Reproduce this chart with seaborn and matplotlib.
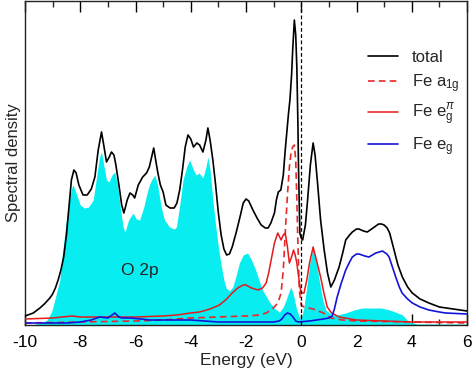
import numpy as np
import pandas as pd
import matplotlib
matplotlib.use("Agg")
import matplotlib.pyplot as plt
import seaborn as sns
from matplotlib.ticker import MultipleLocator

# ---- data (spectral density, arbitrary units) ----
total_x = [-10.0, -9.7, -9.46, -9.3, -9.1, -9.0, -8.9, -8.8, -8.7, -8.6, -8.5, -8.4, -8.32, -8.23,
           -8.15, -8.05, -7.9, -7.75, -7.6, -7.47, -7.35, -7.23, -7.15, -7.05, -6.95, -6.87, -6.78,
           -6.71, -6.6, -6.5, -6.42, -6.3, -6.2, -6.1, -6.03, -5.9, -5.74, -5.6, -5.5, -5.4, -5.34,
           -5.27, -5.19, -5.1, -5.0, -4.9, -4.75, -4.6, -4.5, -4.4, -4.3, -4.2, -4.1, -4.0, -3.9,
           -3.78, -3.68, -3.56, -3.45, -3.38, -3.3, -3.2, -3.1, -3.0, -2.9, -2.8, -2.7, -2.6, -2.5,
           -2.36, -2.2, -2.1, -2.0, -1.9, -1.75, -1.6, -1.45, -1.3, -1.2, -1.1, -0.97, -0.9, -0.83,
           -0.74, -0.65, -0.58, -0.5, -0.46, -0.41, -0.35, -0.31, -0.25, -0.2, -0.16, -0.12, -0.1,
           -0.05, 0.0, 0.05, 0.15, 0.23, 0.33, 0.43, 0.5, 0.59, 0.7, 0.83, 0.95, 1.07, 1.2, 1.37,
           1.5, 1.61, 1.75, 1.85, 2.0, 2.09, 2.25, 2.39, 2.6, 2.8, 2.9, 3.0, 3.11, 3.2, 3.36, 3.5,
           3.66, 3.85, 4.02, 4.3, 4.62, 5.0, 5.5, 6.0]
total_y = [9, 12, 17, 21, 27, 31, 37, 45, 55, 68, 90, 120, 145, 155,
           152, 140, 130, 130, 136, 148, 175, 193, 180, 163, 168, 173, 170,
           160, 140, 120, 112, 125, 132, 130, 127, 140, 148, 152, 158, 170, 177,
           165, 152, 140, 133, 120, 117, 117, 122, 135, 155, 178, 190, 186, 178,
           182, 180, 173, 185, 197, 185, 165, 140, 112, 90, 76, 70, 71, 78,
           92, 110, 122, 126, 124, 115, 107, 100, 97, 97, 102, 112, 125, 133,
           135, 150, 175, 200, 212, 225, 250, 275, 305, 290, 258, 200, 158,
           92, 87, 85, 100, 125, 160, 182, 170, 142, 105, 75, 52, 38, 45, 58,
           72, 85, 90, 93, 96, 96, 94, 93, 97, 101, 101, 100, 97, 92, 75, 60,
           48, 38, 32, 26, 22, 18, 16, 14]

o2p_x = [-10.0, -9.8, -9.6, -9.4, -9.2, -9.04, -8.95, -8.86, -8.74, -8.65, -8.5, -8.4, -8.3, -8.26,
         -8.15, -8.0, -7.85, -7.7, -7.53, -7.4, -7.3, -7.23, -7.15, -7.05, -6.96, -6.85, -6.75,
         -6.65, -6.55, -6.45, -6.38, -6.25, -6.09, -5.97, -5.85, -5.7, -5.6, -5.5, -5.42, -5.3,
         -5.2, -5.07, -4.95, -4.77, -4.6, -4.52, -4.4, -4.28, -4.15, -4.04, -3.9, -3.8, -3.7,
         -3.56, -3.45, -3.38, -3.3, -3.2, -3.1, -3.0, -2.9, -2.8, -2.72, -2.6, -2.48, -2.35,
         -2.24, -2.1, -1.94, -1.8, -1.65, -1.57, -1.4, -1.15, -0.95, -0.79, -0.65, -0.55, -0.45,
         -0.37, -0.28, -0.19, -0.1, -0.02, 0.08, 0.17, 0.3, 0.43, 0.55, 0.65, 0.78, 0.89, 1.13,
         1.3, 1.61, 1.9, 2.2, 2.9, 3.2, 3.5, 3.66, 3.8, 3.9, 4.2, 6.0]
o2p_y = [0, 0, 1, 2, 5, 13, 22, 32, 45, 70, 106, 125, 138, 140,
         132, 120, 117, 118, 125, 150, 168, 173, 160, 145, 143, 150, 153,
         140, 118, 98, 93, 105, 112, 106, 105, 118, 130, 140, 145, 150,
         140, 118, 105, 98, 96, 98, 120, 145, 158, 165, 155, 150, 152,
         147, 158, 168, 155, 125, 100, 78, 60, 45, 37, 34, 38, 50,
         62, 70, 72, 65, 55, 48, 35, 23, 16, 13, 18, 25, 33,
         38, 30, 18, 10, 5, 15, 32, 60, 78, 62, 45, 25, 15, 10,
         10, 12, 15, 17, 17, 15, 12, 10, 6, 3, 1, 1]

egpi_x = [-10.0, -9.0, -8.3, -8.0, -7.0, -6.0, -5.0, -4.5, -4.0, -3.68, -3.3, -2.96, -2.7, -2.5, -2.3,
          -2.1, -2.0, -1.8, -1.56, -1.4, -1.27, -1.18, -1.09, -0.97, -0.85, -0.78, -0.73, -0.65,
          -0.58, -0.5, -0.43, -0.35, -0.28, -0.22, -0.16, -0.08, -0.01, 0.1, 0.2, 0.3, 0.43,
          0.55, 0.7, 0.82, 0.94, 1.1, 1.37, 2.0, 3.0, 4.0, 6.0]
egpi_y = [6, 7, 9, 8, 8, 8, 9, 10, 12, 13, 16, 20, 26, 32, 37,
          40, 40, 37, 35, 37, 42, 52, 65, 82, 92, 88, 85, 90,
          92, 78, 62, 68, 75, 70, 62, 45, 32, 32, 45, 62, 78,
          65, 48, 32, 18, 12, 8, 5, 4, 3, 3]

a1g_x = [-10.0, -8.0, -6.0, -5.0, -4.0, -3.0, -2.0, -1.5, -1.27, -1.05, -0.91, -0.8, -0.73, -0.65,
         -0.58, -0.5, -0.43, -0.37, -0.31, -0.25, -0.2, -0.16, -0.12, -0.07, 0.0, 0.1, 0.43, 0.8,
         1.07, 1.5, 2.0, 4.0, 6.0]
a1g_y = [2, 3, 4, 5, 7, 8, 9, 10, 12, 16, 20, 26, 32, 55,
         92, 130, 158, 172, 178, 180, 165, 125, 80, 35, 20, 18, 16, 12,
         7, 5, 4, 3, 2]

eg_x = [-10.0, -9.0, -8.5, -8.0, -7.6, -7.3, -7.0, -6.85, -6.75, -6.6, -6.5, -6.2, -5.8, -5.5,
        -5.0, -4.0, -3.0, -2.0, -1.0, -0.8, -0.7, -0.6, -0.5, -0.4, -0.3, -0.2, -0.1, 0.3, 0.8,
        1.0, 1.12, 1.2, 1.3, 1.45, 1.61, 1.75, 1.85, 2.0, 2.09, 2.3, 2.45, 2.7, 2.94, 3.1, 3.18,
        3.3, 3.42, 3.55, 3.65, 3.85, 4.02, 4.3, 4.62, 5.0, 5.22, 6.0]
eg_y = [2, 2, 2, 3, 5, 8, 7, 10, 12, 8, 7, 7, 6, 5,
        5, 5, 3, 3, 3, 4, 6, 10, 12, 11, 8, 4, 3, 4, 6,
        7, 9, 16, 28, 42, 55, 63, 68, 71, 71, 69, 68, 72, 74, 71, 68,
        58, 48, 38, 32, 26, 22, 18, 15, 13, 12, 11]

labels = ["total", r"Fe a$_{\mathrm{1g}}$", r"Fe e$_{\mathrm{g}}^{\pi}$", r"Fe e$_{\mathrm{g}}$"]
x_ticks = [-10, -8, -6, -4, -2, 0, 2, 4, 6]

# ---- style ----
sns.set_style("ticks")
plt.rcParams["font.family"] = ["Liberation Sans", "DejaVu Sans"]
plt.rcParams["mathtext.fontset"] = "custom"
plt.rcParams["mathtext.rm"] = "Liberation Sans"
plt.rcParams["mathtext.it"] = "Liberation Sans:italic"
plt.rcParams["mathtext.bf"] = "Liberation Sans:bold"

fig = plt.figure(figsize=(4.74, 3.72), dpi=100)
ax = fig.add_axes([25 / 474, 47 / 372, 442 / 474, 324 / 372])

ax.fill_between(o2p_x, 0, o2p_y, color="#08eef0", linewidth=0, zorder=1)

sns.lineplot(x=total_x, y=total_y, ax=ax, color="black", lw=1.2, sort=False,
             estimator=None, label=labels[0], zorder=4)
sns.lineplot(x=a1g_x, y=a1g_y, ax=ax, color="#e8282a", lw=1.2, sort=False,
             estimator=None, label=labels[1], zorder=3)
ax.lines[-1].set_dashes((4, 2.5))
sns.lineplot(x=egpi_x, y=egpi_y, ax=ax, color="#e41a1c", lw=1.1, sort=False,
             estimator=None, label=labels[2], zorder=3)
sns.lineplot(x=eg_x, y=eg_y, ax=ax, color="#1414d8", lw=1.2, sort=False,
             estimator=None, label=labels[3], zorder=3)

ax.axvline(0, color="black", lw=0.9, ls=(0, (3, 2)), zorder=5)

ax.text(-5.85, 54, "O 2p", fontsize=12.5, ha="center", va="center", zorder=6)

ax.set_xlim(-10, 6)
ax.set_ylim(0, 324)
ax.set_xticks(x_ticks)
ax.set_xticklabels([str(t) for t in x_ticks], fontsize=12.5)
ax.xaxis.set_minor_locator(MultipleLocator(1))
ax.set_yticks([])
ax.tick_params(axis="x", which="major", direction="in", length=8, width=1,
               top=True, bottom=True, pad=7, colors="black")
ax.tick_params(axis="x", which="minor", direction="in", length=4, width=1,
               top=True, bottom=True)
for s in ax.spines.values():
    s.set_visible(True)
    s.set_linewidth(1.0)
    s.set_color("#222222")

ax.set_xlabel("Energy (eV)", fontsize=12.5, labelpad=2)
ax.set_ylabel("Spectral density", fontsize=12, labelpad=3)

leg = ax.legend(loc="upper left", bbox_to_anchor=(0.75, 0.885), frameon=False,
                fontsize=12, handlelength=1.8, handletextpad=0.8, labelspacing=0.42,
                borderpad=0.2)

fig.savefig("out.png", dpi=100)
